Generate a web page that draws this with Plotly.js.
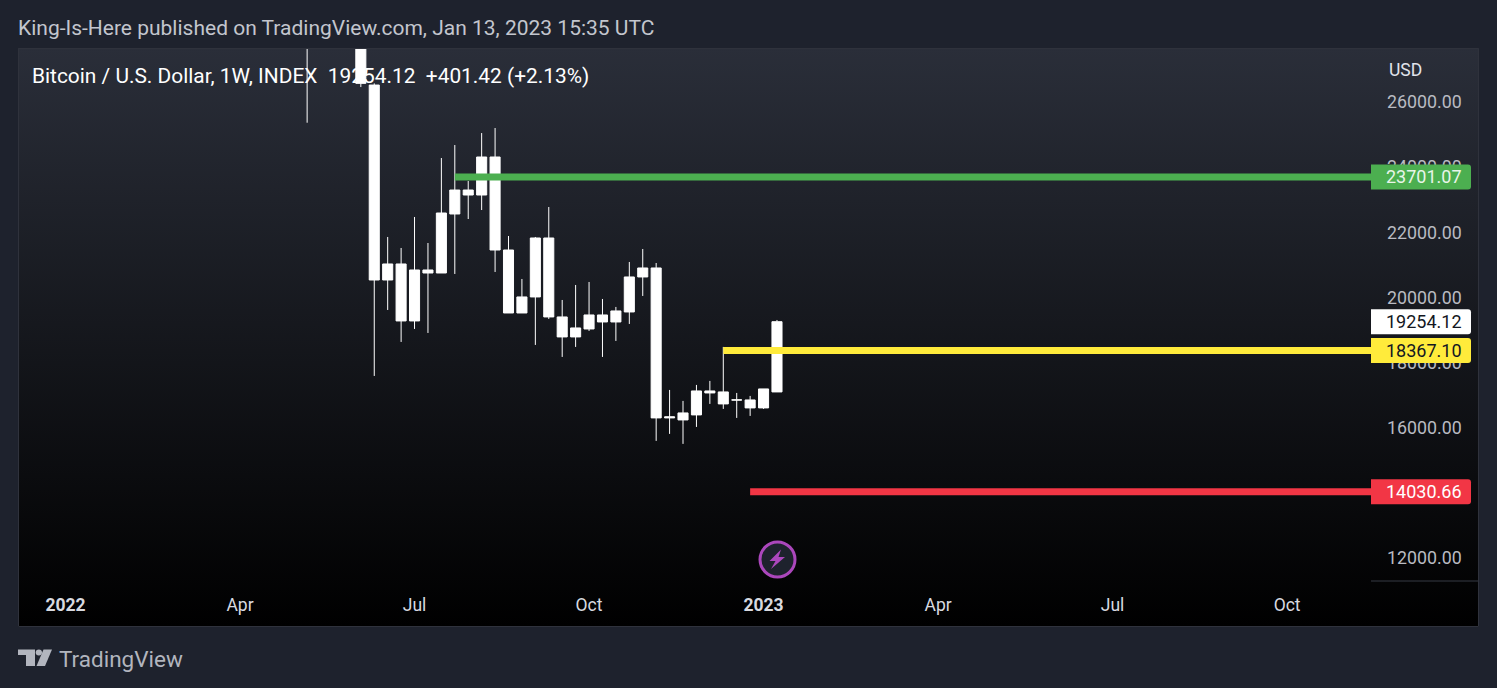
<!DOCTYPE html>
<html><head><meta charset="utf-8">
<script src="https://cdn.plot.ly/plotly-3.0.1.min.js"></script>
<style>
html,body{margin:0;padding:0;background:#1e222d;width:1497px;height:688px;overflow:hidden}
#pane{position:absolute;left:18px;top:48px;width:1461px;height:579px;background:linear-gradient(180deg,#2a2e39 0%,#000 100%)}
#chart{position:absolute;left:0;top:0;width:1497px;height:688px}
</style></head><body>
<div id="pane"></div><div id="chart"></div>
<script>
// ---- data ----
const weeks = ['2022-05-09','2022-05-16','2022-05-23','2022-05-30','2022-06-06','2022-06-13','2022-06-20','2022-06-27','2022-07-04','2022-07-11','2022-07-18','2022-07-25','2022-08-01','2022-08-08','2022-08-15','2022-08-22','2022-08-29','2022-09-05','2022-09-12','2022-09-19','2022-09-26','2022-10-03','2022-10-10','2022-10-17','2022-10-24','2022-10-31','2022-11-07','2022-11-14','2022-11-21','2022-11-28','2022-12-05','2022-12-12','2022-12-19','2022-12-26','2023-01-02','2023-01-09'];
const opens  = [34060,31300,30300,28600,29900,26522,20535,21027,19277,20842,20750,22562,23298,23145,24312,21456,19522,20014,21825,19400,18786,19031,19461,19246,19553,20628,20904,16299,16237,16391,17127,17097,16851,16851,16606,17097];
const highs  = [34230,31700,30600,32300,31700,26574,21856,21518,22470,21671,24281,24680,23575,25048,25202,21886,20566,21856,22777,19921,20382,20474,19952,19707,21088,21487,21057,17158,16821,17312,17435,18479,17066,16974,17189,19307];
const lows   = [25365,28700,28000,29300,26460,17588,19614,18632,19031,18908,20750,20720,22408,22684,20781,19522,19522,18540,19338,18172,18479,18970,18172,18663,19185,20044,15593,15808,15501,16022,16729,16575,16299,16360,16575,17097];
const closes = [31300,30300,28600,29900,26574,20535,21027,19277,20842,20750,22592,23298,23145,24312,21456,19522,20014,21825,19400,18786,19062,19461,19246,19584,20628,20904,16299,16330,16452,17127,17066,16729,16851,16606,17189,19254.12];

const levelNames  = ['resistance','pivot','support'];
const levelValues = [23701.07,18367.10,14030.66];
const levelStarts = ['2022-07-25','2022-12-12','2022-12-26'];
const levelColors = ['#4caf50','#ffeb3b','#f23645'];
const levelTextColors = ['#e8f5e9','#131722','#ffffff'];
const lastPrice = 19254.12;

const yTicks = [12000,16000,18000,20000,22000,24000,26000];
const yTickShown = ['12000.00','16000.00','18000.00','20000.00','22000.00','24000.00','26000.00'];
const xTicks = ['2022-01-03','2022-04-04','2022-07-04','2022-10-03','2023-01-02','2023-04-03','2023-07-03','2023-10-02'];
const xTickShown = ['<b>2022</b>','Apr','Jul','Oct','<b>2023</b>','Apr','Jul','Oct'];
const xRange = ['2021-12-09 18:00','2023-11-14 18:00'];
const yRange = [11290,27660];

// ---- page geometry ----
const W=1497,H=688,L=19,R=1371,T=48,B=581;
const px=x=>(x-L)/(R-L), py=y=>(B-y)/(B-T);
const poly=(pts)=>'M'+pts.map(p=>px(p[0])+','+py(p[1])).join('L')+'Z';
const font='Roboto, Arial, sans-serif';
const tagPath='M0,-12.5L97,-12.5Q100,-12.5 100,-9.5L100,9.5Q100,12.5 97,12.5L0,12.5Z';
const tag=(v,c)=>({type:'path',layer:'above',xref:'paper',yref:'y',xsizemode:'pixel',ysizemode:'pixel',xanchor:1,yanchor:v,path:tagPath,fillcolor:c,line:{width:0}});
const tagText=(v,c)=>({xref:'paper',yref:'y',x:px(1463.5),y:v,xanchor:'right',yanchor:'middle',showarrow:false,text:v.toFixed(2),font:{family:font,size:18,color:c}});
const pageText=(t,x,y,s,c)=>({xref:'paper',yref:'paper',x:px(x),y:py(y),xanchor:'left',yanchor:'middle',showarrow:false,text:t,font:{family:font,size:s,color:c},borderpad:0});

const traces=[{
  type:'candlestick',x:weeks,open:opens,high:highs,low:lows,close:closes,
  increasing:{line:{color:'#ffffff',width:1},fillcolor:'#ffffff'},
  decreasing:{line:{color:'#ffffff',width:1},fillcolor:'#ffffff'},
  whiskerwidth:0,hoverinfo:'skip',showlegend:false
}].concat(levelValues.map((v,i)=>({
  type:'scatter',mode:'lines',name:levelNames[i],x:[levelStarts[i],xRange[1]],y:[v,v],
  line:{color:levelColors[i],width:7},hoverinfo:'skip',showlegend:false
})));

const shapes=[
  {type:'rect',layer:'below',xref:'paper',yref:'paper',x0:0,x1:0.6,y0:py(84),y1:py(64),line:{width:0},fillcolor:'rgba(0,0,0,0)',
   label:{text:'Bitcoin / U.S. Dollar, 1W, INDEX\u00a0\u00a019254.12\u00a0\u00a0+401.42 (+2.13%)',textposition:'middle left',padding:10,font:{family:font,size:20.9,color:'#ffffff'}}},
  // axis and pane frame
  {type:'line',xref:'paper',yref:'paper',x0:1,x1:px(1478),y0:0,y1:0,line:{color:'#363a45',width:1}},
  {type:'path',xref:'paper',yref:'paper',path:'M'+px(18.5)+','+py(48.5)+'L'+px(1478.5)+','+py(48.5)+'L'+px(1478.5)+','+py(626.5)+'L'+px(18.5)+','+py(626.5)+'Z',line:{color:'#2f323c',width:1},fillcolor:'rgba(0,0,0,0)'},
  tag(levelValues[0],levelColors[0]),tag(lastPrice,'#ffffff'),tag(levelValues[1],levelColors[1]),tag(levelValues[2],levelColors[2]),
  // lightning badge
  {type:'circle',xref:'paper',yref:'paper',x0:px(760),x1:px(795),y0:py(577),y1:py(542),line:{color:'#ab47bc',width:3},fillcolor:'#1e222d'},
  {type:'path',xref:'paper',yref:'paper',path:poly([[781,549.5],[769.5,561],[775.5,561],[771,569],[785,557],[778.5,557]]),line:{width:0},fillcolor:'#ab47bc'},
  // TradingView logo
  {type:'path',xref:'paper',yref:'paper',path:poly([[18,649.5],[35,649.5],[35,666],[26,666],[26,655],[18,655]]),line:{width:0},fillcolor:'#b2b5be'},
  {type:'circle',xref:'paper',yref:'paper',x0:px(35.7),x1:px(42),y0:py(655.5),y1:py(649.5),line:{width:0},fillcolor:'#b2b5be'},
  {type:'path',xref:'paper',yref:'paper',path:poly([[43.5,649.5],[52,649.5],[45,666],[36.5,666]]),line:{width:0},fillcolor:'#b2b5be'}
];

const annotations=[
  pageText('King-Is-Here published on TradingView.com, Jan 13, 2023 15:35 UTC',17,28,21,'#c3c6ce'),
  pageText('TradingView',58,658.5,22.5,'#b2b5be'),
  pageText('USD',1388,70,17.5,'#e0e3eb'),
  tagText(levelValues[0],levelTextColors[0]),tagText(lastPrice,'#131722'),tagText(levelValues[1],levelTextColors[1]),tagText(levelValues[2],levelTextColors[2])
];

const layout={
  width:W,height:H,margin:{l:L,r:W-R,t:T,b:H-B,pad:0},
  paper_bgcolor:'rgba(0,0,0,0)',plot_bgcolor:'rgba(0,0,0,0)',
  showlegend:false,boxgap:0.25,boxgroupgap:0,hovermode:false,
  xaxis:{type:'date',range:xRange,tickmode:'array',tickvals:xTicks,ticktext:xTickShown,showgrid:false,zeroline:false,showline:false,
    ticks:'',ticklabelstandoff:11,tickangle:0,rangeslider:{visible:false},tickfont:{family:font,size:17.5,color:'#d8dae0'}},
  yaxis:{range:yRange,side:'right',tickmode:'array',tickvals:yTicks,ticktext:yTickShown,showgrid:false,zeroline:false,showline:false,
    ticks:'',ticklabelstandoff:15,tickfont:{family:font,size:17.8,color:'#b9bbc2'}},
  shapes:shapes,annotations:annotations
};
Plotly.newPlot('chart',traces,layout,{displayModeBar:false,staticPlot:true});
</script>
</body></html>
